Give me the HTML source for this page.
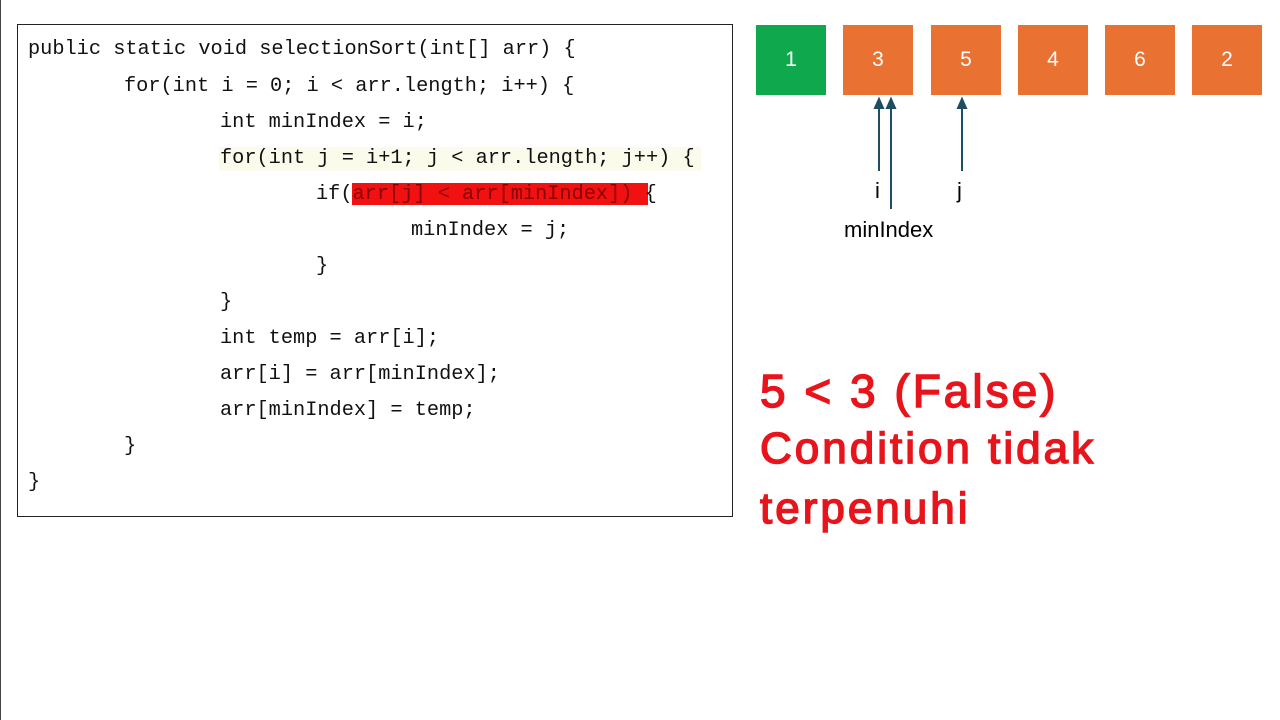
<!DOCTYPE html>
<html><head><style>
body{margin:0;width:1280px;height:720px;background:#fff;position:relative;overflow:hidden;font-family:"Liberation Sans",sans-serif}
#code{position:absolute;left:17px;top:24px;width:716px;height:493px;border:1.5px solid #222;box-sizing:border-box}
.l{position:absolute;font-family:"Liberation Mono",monospace;font-size:20.3px;color:#111;white-space:pre;line-height:24px}
.b{position:absolute;top:25px;width:70px;height:70px;color:#fff;font-size:21px;display:flex;align-items:center;justify-content:center;background:#e97132}
.hand{position:absolute;color:#e8141c;font-family:"Liberation Sans",sans-serif;font-size:46px;font-weight:normal;letter-spacing:3px;white-space:nowrap;-webkit-text-stroke:1.5px #e8141c}
</style></head><body>
<div style="position:absolute;left:0;top:0;width:1px;height:720px;background:#444"></div>
<div id="code"></div>
<div style="position:absolute;left:219px;top:147px;width:482px;height:24px;background:#fbfbec"></div>
<div style="position:absolute;left:352px;top:183px;width:296px;height:22px;background:#f21111"></div>
<div class="l" style="left:28px;top:38px">public static void selectionSort(int[] arr) {</div>
<div class="l" style="left:124px;top:75px">for(int i = 0; i &lt; arr.length; i++) {</div>
<div class="l" style="left:220px;top:111px">int minIndex = i;</div>
<div class="l" style="left:220px;top:147px">for(int j = i+1; j &lt; arr.length; j++) {</div>
<div class="l" style="left:316px;top:183px">if(<span style="color:#8a0000">arr[j] &lt; arr[minIndex]) </span>{</div>
<div class="l" style="left:411px;top:219px">minIndex = j;</div>
<div class="l" style="left:316px;top:255px">}</div>
<div class="l" style="left:220px;top:291px">}</div>
<div class="l" style="left:220px;top:327px">int temp = arr[i];</div>
<div class="l" style="left:220px;top:363px">arr[i] = arr[minIndex];</div>
<div class="l" style="left:220px;top:399px">arr[minIndex] = temp;</div>
<div class="l" style="left:124px;top:435px">}</div>
<div class="l" style="left:28px;top:471px">}</div>

<div class="b" style="left:756px;background:#10a84d">1</div>
<div class="b" style="left:843px">3</div>
<div class="b" style="left:931px">5</div>
<div class="b" style="left:1018px">4</div>
<div class="b" style="left:1105px">6</div>
<div class="b" style="left:1192px">2</div>

<svg style="position:absolute;left:0;top:0" width="1280" height="720">
<g stroke="#1f4e62" stroke-width="2" fill="#1f4e62">
<line x1="879" y1="106" x2="879" y2="171"/><polygon points="875,108 883,108 879,99"/>
<line x1="891" y1="106" x2="891" y2="209"/><polygon points="887,108 895,108 891,99"/>
<line x1="962" y1="106" x2="962" y2="171"/><polygon points="958,108 966,108 962,99"/>
</g></svg>
<div style="position:absolute;left:875px;top:178px;font-size:22px">i</div>
<div style="position:absolute;left:957px;top:178px;font-size:22px">j</div>
<div style="position:absolute;left:844px;top:217px;font-size:22px">minIndex</div>

<div class="hand" style="left:760px;top:364px">5 &lt; 3 (False)</div>
<div class="hand" style="left:760px;top:424px;font-size:44px">Condition tidak</div>
<div class="hand" style="left:760px;top:484px;font-size:44px">terpenuhi</div>
</body></html>
